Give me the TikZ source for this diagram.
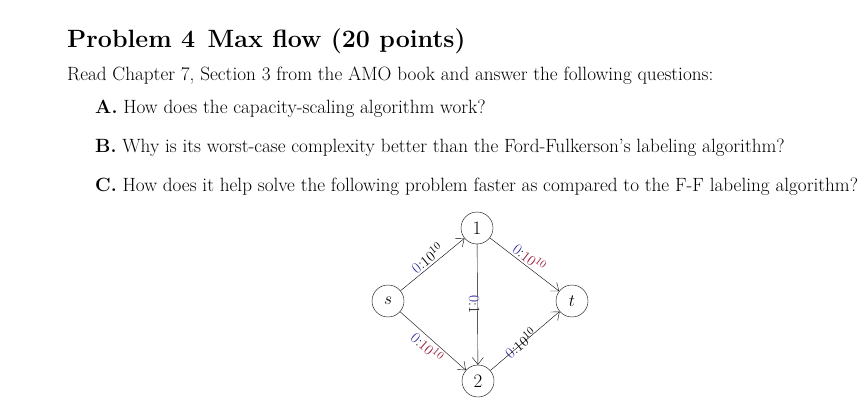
\documentclass[tikz,border=0pt]{standalone}
\usetikzlibrary{arrows.meta}
\definecolor{lblue}{RGB}{40,40,150}
\definecolor{lred}{RGB}{150,30,60}
\begin{document}
\begin{tikzpicture}[x=1pt,y=-1pt,
  txt/.style={anchor=base west,inner sep=0pt,font=\fontsize{19.2}{23}\selectfont},
  vtx/.style={circle,draw,minimum size=32pt,inner sep=0pt,font=\fontsize{19}{23}\selectfont},
  edge/.style={draw,-{Straight Barb[length=7pt,width=11pt]}},
  lab/.style={font=\fontsize{15.5}{18}\selectfont,sloped,inner sep=2pt}]
\clip (0,0) rectangle (859,414);
\useasboundingbox (0,0) rectangle (859,414);
\node[txt,font=\fontsize{25}{30}\selectfont\bfseries] (title) at (67,48) {Problem 4\hspace{0.5em}Max flow (20 points)};
\node[txt] (p) at (67,81) {Read Chapter 7, Section 3 from the AMO book and answer the following questions:};
\node[txt] (a) at (95,114) {\textbf{A.}\ How does the capacity-scaling algorithm work?};
\node[txt] (b) at (95,153) {\textbf{B.}\ Why is its worst-case complexity better than the Ford-Fulkerson's labeling algorithm?};
\node[txt] (c) at (95,192) {\textbf{C.}\ How does it help solve the following problem faster as compared to the F-F labeling algorithm? Why?};
\node[vtx] (s) at (388,301) {$s$};
\node[vtx] (n1) at (477,228) {1};
\node[vtx] (n2) at (478,381) {2};
\node[vtx] (t) at (572,301) {$t$};
\draw[edge] (s) -- node[lab,above] {\textcolor{lblue}{0}:$10^{10}$} (n1);
\draw[edge] (n1) -- node[lab,above] {\textcolor{lblue}{0}:\textcolor{lred}{$10^{10}$}} (t);
\draw[edge] (s) -- node[lab,below] {\textcolor{lblue}{0}:\textcolor{lred}{$10^{10}$}} (n2);
\draw[edge] (n2) -- node[lab,pos=0.45,above,yshift=-7pt] {\textcolor{lblue}{0}:$10^{10}$} (t);
\draw[edge] (n1) -- node[lab,below,yshift=4pt] {\textcolor{lblue}{0}:1} (n2);
\end{tikzpicture}
\end{document}
